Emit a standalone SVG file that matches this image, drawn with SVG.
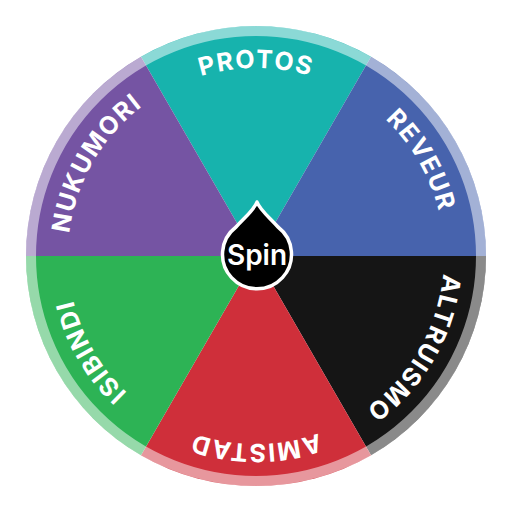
<svg xmlns="http://www.w3.org/2000/svg" width="512" height="512" viewBox="0 0 512 512">
<style>
.lbl{font-family:Inter,Lato,"Liberation Sans",sans-serif;font-weight:700;font-size:25px;fill:#ffffff;letter-spacing:1.5px}
.spin{font-family:Inter,"Open Sans","Liberation Sans",sans-serif;font-weight:600;font-size:28px;fill:#ffffff}
</style>
<defs>
<path id="a1" d="M123.06,123.06 A188,188 0 0 1 388.94,123.06"/>
<path id="a2" d="M304.66,74.41 A188,188 0 0 1 437.59,304.66"/>
<path id="a3" d="M437.59,207.34 A188,188 0 0 1 304.66,437.59"/>
<path id="a4" d="M388.94,388.94 A188,188 0 0 1 123.06,388.94"/>
<path id="a5" d="M207.34,437.59 A188,188 0 0 1 74.41,207.34"/>
<path id="a6" d="M74.41,304.66 A188,188 0 0 1 207.34,74.41"/>
</defs>
<rect width="512" height="512" fill="#ffffff"/>
<g id="seg-protos">
<path d="M256,256 L141,56.81 A230,230 0 0 1 371,56.81 Z" fill="#17b3ad"/>
<text class="lbl"><textPath href="#a1" startOffset="50%" text-anchor="middle">PROTOS</textPath></text>
</g>
<g id="seg-reveur">
<path d="M256,256 L371,56.81 A230,230 0 0 1 486,256 Z" fill="#4763ad"/>
<text class="lbl"><textPath href="#a2" startOffset="50%" text-anchor="middle">REVEUR</textPath></text>
</g>
<g id="seg-altruismo">
<path d="M256,256 L486,256 A230,230 0 0 1 371,455.19 Z" fill="#151515"/>
<text class="lbl"><textPath href="#a3" startOffset="50%" text-anchor="middle">ALTRUISMO</textPath></text>
</g>
<g id="seg-amistad">
<path d="M256,256 L371,455.19 A230,230 0 0 1 141,455.19 Z" fill="#cf2f3a"/>
<text class="lbl"><textPath href="#a4" startOffset="50%" text-anchor="middle">AMISTAD</textPath></text>
</g>
<g id="seg-isibindi">
<path d="M256,256 L141,455.19 A230,230 0 0 1 26,256 Z" fill="#2db355"/>
<text class="lbl"><textPath href="#a5" startOffset="50%" text-anchor="middle">ISIBINDI</textPath></text>
</g>
<g id="seg-nukumori">
<path d="M256,256 L26,256 A230,230 0 0 1 141,56.81 Z" fill="#7554a3"/>
<text class="lbl"><textPath href="#a6" startOffset="50%" text-anchor="middle">NUKUMORI</textPath></text>
</g>
<g id="rim">
<circle cx="256" cy="256" r="225" fill="none" stroke="#ffffff" stroke-opacity="0.5" stroke-width="10"/>
</g>
<g id="spin-button">
<path d="M257,202 C254,210 245,217 236,227 A34.5,34.5 0 1 0 278,227 C269,217 260,210 257,202 Z" fill="#000000" stroke="#ffffff" stroke-width="3.5" stroke-linejoin="round"/>
<text class="spin" x="257" y="265" text-anchor="middle">Spin</text>
</g>
</svg>
